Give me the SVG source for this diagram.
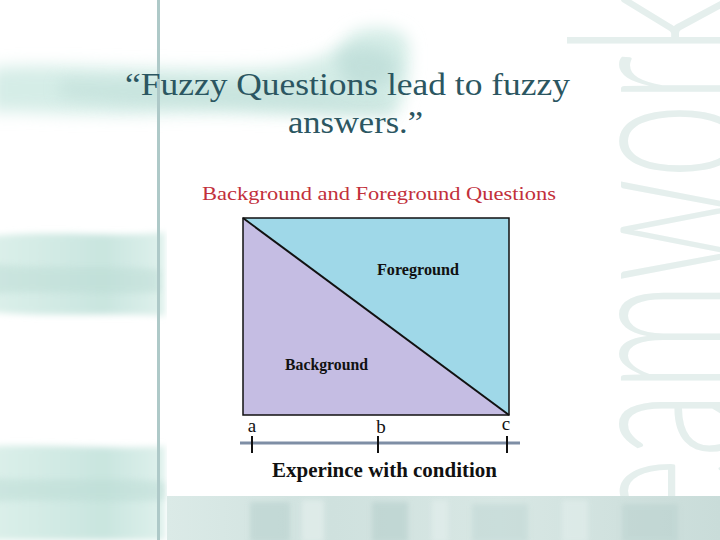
<svg xmlns="http://www.w3.org/2000/svg" width="720" height="540" viewBox="0 0 720 540">
  <defs>
    <filter id="blur8" x="-30%" y="-60%" width="160%" height="220%">
      <feGaussianBlur stdDeviation="8"/>
    </filter>
    <filter id="blur3" x="-10%" y="-30%" width="120%" height="160%">
      <feGaussianBlur stdDeviation="3"/>
    </filter>
    <filter id="blur2" x="-20%" y="-20%" width="140%" height="140%">
      <feGaussianBlur stdDeviation="2.5"/>
    </filter>
    <linearGradient id="bandL" x1="0" y1="0" x2="1" y2="0">
      <stop offset="0" stop-color="#dcf0ea"/>
      <stop offset="0.65" stop-color="#c9e5df"/>
      <stop offset="1" stop-color="#dff1ec"/>
    </linearGradient>
    <linearGradient id="bottomStrip" x1="0" y1="0" x2="1" y2="0">
      <stop offset="0" stop-color="#dbeae7"/>
      <stop offset="0.3" stop-color="#cfe1de"/>
      <stop offset="0.6" stop-color="#d8e7e4"/>
      <stop offset="1" stop-color="#c9dcd9"/>
    </linearGradient>
    <style>
      .title { font-family: "Liberation Serif", "DejaVu Serif", serif; fill: #2b5661; font-size: 32px; }
      .sub { font-family: "Liberation Serif", "DejaVu Serif", serif; fill: #c2303b; font-size: 19px; }
      .lbl { font-family: "Liberation Serif", "DejaVu Serif", serif; font-weight: bold; fill: #111; font-size: 17px; }
      .tick { font-family: "Liberation Serif", "DejaVu Serif", serif; fill: #111; font-size: 19px; text-anchor: middle; }
      .axis-title { font-family: "Liberation Serif", "DejaVu Serif", serif; font-weight: bold; fill: #111; font-size: 20px; }
      .tk { stroke: #111; stroke-width: 2; }
      .wm { font-family: Lato, "Liberation Sans", sans-serif; font-weight: 300; fill: #e5efed; font-size: 235px; }
      .streak { filter: url(#blur2); }
    </style>
  </defs>

  <!-- page background -->
  <rect x="0" y="0" width="720" height="540" fill="#ffffff"/>

  <!-- watermark -->
  <text class="wm" transform="translate(738,575) rotate(-90)" x="0" y="0" textLength="585" lengthAdjust="spacingAndGlyphs">teamwork</text>

  <!-- brush strokes -->
  <g id="brush-strokes">
    <path d="M-10,68 C60,62 150,72 260,68 C320,64 340,50 350,34 C370,24 400,26 408,40 C412,70 405,100 395,115 C330,118 250,110 150,114 C80,116 20,110 -10,112 Z" fill="#d5ede7" filter="url(#blur8)"/>
    <path d="M60,80 C150,82 230,84 300,86 C330,90 350,98 390,100 L392,112 C330,114 250,106 150,104 C100,102 70,98 60,96 Z" fill="#bcdcd6" opacity="0.55" filter="url(#blur8)"/>
    <path d="M340,50 C365,42 392,46 398,66 C396,84 380,92 355,88 C338,80 335,62 340,50 Z" fill="#b3d6d1" opacity="0.55" filter="url(#blur8)"/>
    <path d="M-10,236 C60,230 120,238 165,232 L165,316 C110,312 50,318 -10,312 Z" fill="url(#bandL)" filter="url(#blur3)"/>
    <path d="M-10,264 C60,270 120,264 160,270 L160,292 C100,296 50,290 -10,294 Z" fill="#b9dad3" opacity="0.45" filter="url(#blur3)"/>
    <path d="M-10,446 C60,444 120,450 165,446 L165,540 L-10,540 Z" fill="url(#bandL)" filter="url(#blur3)"/>
    <path d="M-10,478 C60,482 120,476 165,482 L165,500 C100,504 50,498 -10,502 Z" fill="#b9dad3" opacity="0.45" filter="url(#blur3)"/>
  </g>

  <!-- vertical rule -->
  <rect x="157" y="0" width="3" height="540" fill="#aec9c8"/>

  <!-- bottom textured strip -->
  <g id="bottom-strip">
    <rect x="167" y="496" width="553" height="44" fill="url(#bottomStrip)"/>
    <rect class="streak" x="250" y="502" width="40" height="40" fill="#b9d2cf" opacity="0.6"/>
    <rect class="streak" x="302" y="500" width="22" height="42" fill="#e4efed" opacity="0.7"/>
    <rect class="streak" x="372" y="502" width="36" height="40" fill="#b4cecb" opacity="0.55"/>
    <rect class="streak" x="432" y="500" width="16" height="42" fill="#e2eeec" opacity="0.7"/>
    <rect class="streak" x="472" y="504" width="56" height="38" fill="#c0d7d4" opacity="0.55"/>
    <rect class="streak" x="562" y="500" width="26" height="42" fill="#e3efed" opacity="0.6"/>
    <rect class="streak" x="622" y="504" width="56" height="38" fill="#b8d0cd" opacity="0.5"/>
  </g>

  <!-- white picture panel -->
  <rect id="panel" x="167" y="172" width="430" height="324" fill="#ffffff"/>

  <!-- title -->
  <g id="title">
    <text class="title" x="125" y="95" textLength="445" lengthAdjust="spacingAndGlyphs">“Fuzzy Questions lead to fuzzy</text>
    <text class="title" x="288" y="133" textLength="135" lengthAdjust="spacingAndGlyphs">answers.”</text>
  </g>

  <g id="chart-title">
    <text class="sub" x="202" y="200" textLength="354" lengthAdjust="spacingAndGlyphs">Background and Foreground Questions</text>
  </g>

  <!-- chart regions -->
  <g id="foreground">
    <polygon points="243,218 509,218 509,415" fill="#9fd8e8"/>
    <text class="lbl" x="377" y="275" textLength="82" lengthAdjust="spacingAndGlyphs">Foreground</text>
  </g>
  <g id="background">
    <polygon points="243,218 509,415 243,415" fill="#c5bde3"/>
    <text class="lbl" x="285" y="370" textLength="83" lengthAdjust="spacingAndGlyphs">Background</text>
  </g>
  <g id="connectors">
    <rect x="243" y="218" width="266" height="197" fill="none" stroke="#111" stroke-width="1.5"/>
    <line x1="243" y1="218" x2="509" y2="415" stroke="#111" stroke-width="2"/>
  </g>

  <!-- axis -->
  <g id="axis">
    <line x1="240" y1="443" x2="520" y2="443" stroke="#7e8ea5" stroke-width="3"/>
    <line class="tk" x1="252" y1="436" x2="252" y2="453"/>
    <line class="tk" x1="378" y1="436" x2="378" y2="453"/>
    <line class="tk" x1="507" y1="436" x2="507" y2="453"/>
    <text class="tick" x="252" y="432">a</text>
    <text class="tick" x="381" y="433">b</text>
    <text class="tick" x="506" y="430">c</text>
    <text class="axis-title" x="272" y="477" textLength="225" lengthAdjust="spacingAndGlyphs">Experince with condition</text>
  </g>
</svg>
